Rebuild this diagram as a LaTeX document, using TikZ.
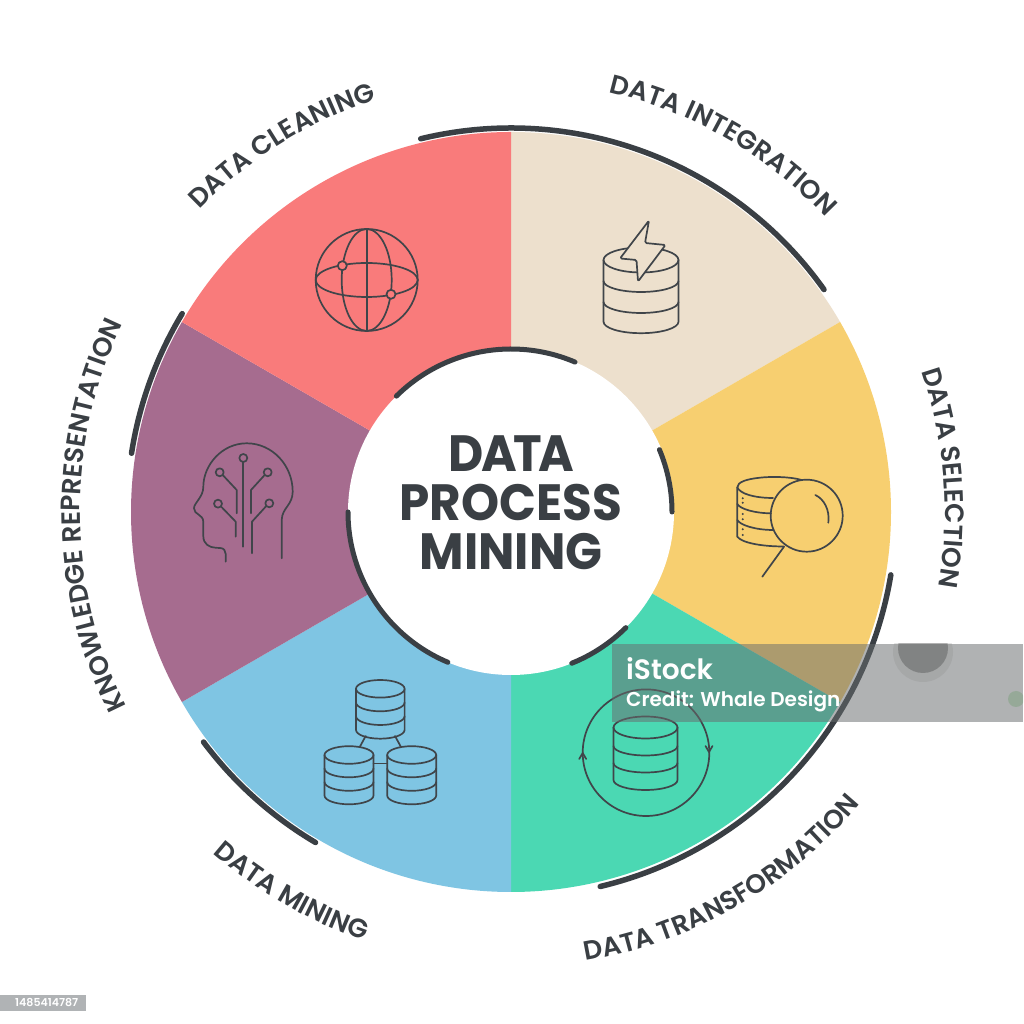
\documentclass[tikz,border=0pt]{standalone}
\usepackage{fontspec}
\setmainfont{Poppins}
\newfontfamily\psemi{Poppins SemiBold}
\usetikzlibrary{decorations.text,arrows.meta}
\definecolor{dk}{HTML}{3A3F44}
\definecolor{icn}{HTML}{40454A}
\definecolor{cred}{HTML}{F97B7B}
\definecolor{cbeige}{HTML}{EDE0CD}
\definecolor{cyellow}{HTML}{F7CF70}
\definecolor{cgreen}{HTML}{4BD8B3}
\definecolor{cblue}{HTML}{7FC5E3}
\definecolor{cpurple}{HTML}{A66C8F}
\definecolor{bandgray}{RGB}{104,108,110}
\definecolor{boxgray}{RGB}{176,179,181}
\tikzset{
  sector/.style={fill=#1,draw=none},
  outerarc/.style={draw=dk,line width=5.5pt,line cap=round},
  innerarc/.style={draw=dk,line width=5pt,line cap=round},
  icon/.style={draw=icn,line width=1.7pt,line join=round,line cap=round},
  label/.style={decorate,decoration={text along path,text align=center,text={|\fontsize{26.5}{26.5}\selectfont\psemi\color{dk}|#1}}}
}
\newcommand{\dbstack}[7]{%
  \draw[icon,fill=#7] (#1,#2) ellipse [x radius=#3,y radius=#4];
  \draw[icon] (#1-#3,#2) -- (#1-#3,#2+3*#5) arc (180:0:#3 and #4) -- (#1+#3,#2);
  \draw[icon] (#1-#3,#2+#5) arc (180:0:#3 and #4);
  \draw[icon] (#1-#3,#2+2*#5) arc (180:0:#3 and #4);
}
\begin{document}
\begin{tikzpicture}[x=1pt,y=1pt]
\useasboundingbox (0,0) rectangle (1023,1024);
\fill[white] (0,0) rectangle (1023,1024);
\coordinate (c) at (511,512);
\fill[sector=cbeige]  (c) -- ++(90:380) arc (90:30:380) -- cycle;
\fill[sector=cyellow] (c) -- ++(30:380) arc (30:-30:380) -- cycle;
\fill[sector=cgreen]  (c) -- ++(-30:380) arc (-30:-90:380) -- cycle;
\fill[sector=cblue]   (c) -- ++(-90:380) arc (-90:-150:380) -- cycle;
\fill[sector=cpurple] (c) -- ++(210:380) arc (210:150:380) -- cycle;
\fill[sector=cred]    (c) -- ++(150:380) arc (150:90:380) -- cycle;
\node[circle,fill=white,minimum size=326pt,inner sep=0pt] (hub) at (c) {};
\draw[outerarc] (c) ++(103.6:384) arc (103.6:35.4:384);
\draw[outerarc] (c) ++(-9.4:385) arc (-9.4:-76.6:385);
\draw[outerarc] (c) ++(239.4:384) arc (239.4:216.8:384);
\draw[outerarc] (c) ++(171.2:384) arc (171.2:148.9:384);
\draw[innerarc] (c) ++(134.7:163) arc (134.7:66.9:163);
\draw[innerarc] (c) ++(22.8:161) arc (22.8:0:161);
\draw[innerarc] (c) ++(-45.2:163) arc (-45.2:-68.1:163);
\draw[innerarc] (c) ++(247.2:163) arc (247.2:180:163);
\node[font=\fontsize{51}{49}\selectfont\bfseries,text=dk,align=center,inner sep=0pt,transform shape,xscale=.95] (title) at (511,521.5) {D\kern-2pt A\kern-4pt T\kern-4pt A\\PROCESS\\MINING};
\path[label={DATA CLEANING}] (c) ++(144.5:434) arc (144.5:99.5:434);
\path[label={DATA INTEGRATION}] (c) ++(85:431) arc (85:35:431);
\path[label={DATA SELECTION}] (c) ++(28:434) arc (28:-19:434);
\path[label={DATA TRANSFORMATION}] (c) ++(-92:455) arc (-92:-28.4:455);
\path[label={DATA MINING}] (c) ++(218:453) arc (218:262:453);
\path[label={KNOWLEDGE REPRESENTATION}] (c) ++(215.5:431) arc (215.5:145.5:431);
\begin{scope}[shift={(0,1024)},yscale=-1]
  % globe
  \draw[icon] (366.7,280) circle (51);
  \draw[icon] (366.7,280) ellipse [x radius=25,y radius=51];
  \draw[icon] (366.7,280) ellipse [x radius=51,y radius=17];
  \draw[icon] (366.7,229) -- (366.7,331);
  \draw[icon,fill=cred] (342.3,265.7) circle (4.5);
  \draw[icon,fill=cred] (391,294.3) circle (4.5);
  % beige db with bolt
  \draw[icon] (641,260) ellipse [x radius=37.5,y radius=12.5];
  \draw[icon] (603.5,260) -- (603.5,321.7) arc (180:0:37.5 and 11.5) -- (678.5,260);
  \draw[icon] (603.5,281) arc (180:0:37.5 and 11);
  \draw[icon] (603.5,302) arc (180:0:37.5 and 11);
  \draw[icon,fill=cbeige,rounded corners=1.5pt] (649,220.5) -- (620,258.5) -- (636.5,260) -- (638,281.5) -- (665.5,245) -- (645,243) -- cycle;
  % head
  \draw[icon] (281.7,558.3) -- (281.7,520) .. controls (282,508) and (292.7,505) .. (292.7,491.7)
     .. controls (292.7,465) and (272,443.3) .. (246.7,443.3)
     .. controls (222,443.3) and (203.3,465) .. (203.3,487)
     .. controls (203.3,497) and (194,503) .. (194,508.3)
     .. controls (194,515) and (203.3,514) .. (203.3,522) -- (203.3,536)
     .. controls (203.3,544) and (209,547.5) .. (216,547.8)
     -- (220,548) .. controls (224,548) and (225.7,551) .. (225.7,554) -- (225.7,561.7);
  \draw[icon] (243.3,546.7) -- (243.3,462);
  \draw[icon] (243.3,458) circle (4);
  \draw[icon] (219.7,472.3) circle (4);
  \draw[icon] (222.7,475) -- (236.7,490) -- (236.7,513.3);
  \draw[icon] (267.7,472.3) circle (4);
  \draw[icon] (264.7,475) -- (251,490) -- (251,513.3);
  \draw[icon] (218,503.7) circle (4);
  \draw[icon] (221,506.5) -- (235.7,521.7) -- (235.7,536.7);
  \draw[icon] (269.3,503.3) circle (4);
  \draw[icon] (266.3,506) -- (252,521.7) -- (252,553.3);
  % magnifier db
  \draw[icon] (801.7,480) .. controls (790,476.5) and (770,476.5) .. (760,477.7)
     .. controls (747,479) and (737.3,482) .. (737.3,487.3) -- (737.3,536.7)
     .. controls (742,543) and (762,546.5) .. (784,546.5);
  \draw[icon] (737.3,487.3) .. controls (740,494) and (755,498) .. (773,498);
  \draw[icon] (737.3,504) .. controls (740,509) and (755,513.3) .. (771,513.3);
  \draw[icon] (737.3,520) .. controls (740,525) and (755,530) .. (773.3,530);
  \draw[icon] (806.7,515.7) circle (36);
  \draw[icon] (815.3,495) .. controls (824,499) and (830,510) .. (828.3,522.7);
  \draw[icon] (784,546.7) -- (762.3,576.7);
  \foreach \yy in {498.3,502.7,514,519.3,529.3,535} \fill[icn] (742.7,\yy) circle (1.1);
  % green: cycle db
  \draw[icon] (646,752.7) circle (63.3);
  \draw[icon] (705.5,746) -- (709,752) -- (712.5,746);
  \draw[icon] (579.2,759) -- (582.7,753) -- (586.2,759);
  \draw[icon] (645.5,727.5) ellipse [x radius=32,y radius=11];
  \draw[icon] (613.5,727.5) -- (613.5,780) arc (180:0:32 and 10) -- (677.5,727.5);
  \draw[icon] (613.5,746) arc (180:0:32 and 9.5);
  \draw[icon] (613.5,763) arc (180:0:32 and 9.5);
  % blue: three dbs
  \dbstack{380.3}{688.8}{24.3}{8.8}{13.7}{0}{cblue}
  \dbstack{349}{755}{24.5}{8.8}{13.5}{0}{cblue}
  \dbstack{411.7}{755}{24.5}{8.8}{13.5}{0}{cblue}
  \coordinate (ta) at (365.7,736); \coordinate (la) at (360,746.5);
  \coordinate (tb) at (395,736); \coordinate (rb) at (400.7,746.5);
  \coordinate (lc) at (373.5,763.5); \coordinate (rc) at (387.2,763.5);
  \draw[icon] (ta) -- (la);
  \draw[icon] (tb) -- (rb);
  \draw[icon] (lc) -- (rc);
  % watermark band
  \fill[bandgray,opacity=.52] (612,644) rectangle (1023,722);
  \begin{scope}
    \clip (612,644) rectangle (1023,722);
    \fill[gray,opacity=.2] (923,652) circle (30);
    \fill[black,opacity=.22] (923,648) circle (25);
    \fill[green!20!gray,opacity=.35] (1016,699) circle (8);
  \end{scope}
  \fill[boxgray] (0,995) rectangle (86,1011);
\end{scope}
\node[anchor=base west,inner sep=0pt,text=white,font=\fontsize{28}{28}\selectfont\psemi] (wm1) at (626,1024-680) {iStock};
\node[anchor=base west,inner sep=0pt,text=white,font=\fontsize{20}{20}\selectfont\psemi] (wm2) at (626,1024-707) {Credit: Whale Design};
\node[anchor=base west,inner sep=0pt,text=white,font=\fontsize{11}{11}\selectfont\psemi] (wm3) at (15,1024-1007) {1485414787};
\end{tikzpicture}
\end{document}
